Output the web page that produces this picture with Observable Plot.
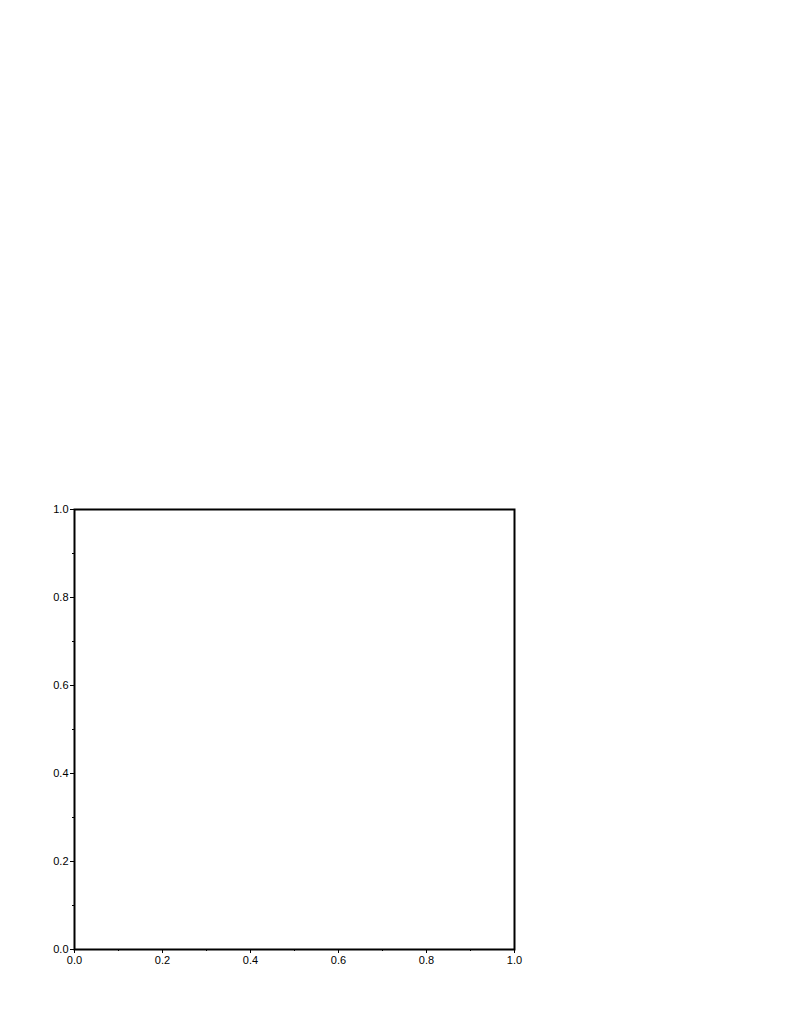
<!DOCTYPE html>
<html>
<head>
<meta charset="utf-8">
<script src="https://cdn.jsdelivr.net/npm/d3@7"></script>
<script src="https://cdn.jsdelivr.net/npm/@observablehq/plot@0.6"></script>
<style>
  html, body { margin: 0; padding: 0; background: #fff; }
  #chart svg { display: block; }
</style>
</head>
<body>
<div id="chart"></div>
<script>
const xDomain = [0, 1];
const yDomain = [0, 1];
const majorTicks = [0, 0.2, 0.4, 0.6, 0.8, 1.0];
const minorTicks = [0.1, 0.3, 0.5, 0.7, 0.9];
const tickLabels = ["0.0", "0.2", "0.4", "0.6", "0.8", "1.0"];

const fmt = d => tickLabels[majorTicks.findIndex(t => Math.abs(t - d) < 1e-9)];

const chart = Plot.plot({
  width: 791,
  height: 1024,
  marginLeft: 74,
  marginRight: 277,
  marginTop: 509,
  marginBottom: 75,
  style: { fontFamily: "'Liberation Sans', Arial, Helvetica, sans-serif", fontSize: "11px", color: "#000", background: "#fff" },
  x: { domain: xDomain },
  y: { domain: yDomain },
  marks: [
    Plot.axisX(majorTicks, { tickSize: 4, tickPadding: 3, tickFormat: fmt, label: null, stroke: "#000", strokeWidth: 1, fill: "#000", fontSize: 11 }),
    Plot.axisX(minorTicks, { tickSize: 2, text: null, label: null, stroke: "#000", strokeWidth: 1 }),
    Plot.axisY(majorTicks, { tickSize: 4, tickPadding: 2, tickFormat: fmt, label: null, stroke: "#000", strokeWidth: 1, fill: "#000", fontSize: 11 }),
    Plot.axisY(minorTicks, { tickSize: 2, text: null, label: null, stroke: "#000", strokeWidth: 1 }),
    Plot.frame({ stroke: "#000", strokeWidth: 2 })
  ]
});
document.getElementById("chart").append(chart);
</script>
</body>
</html>
